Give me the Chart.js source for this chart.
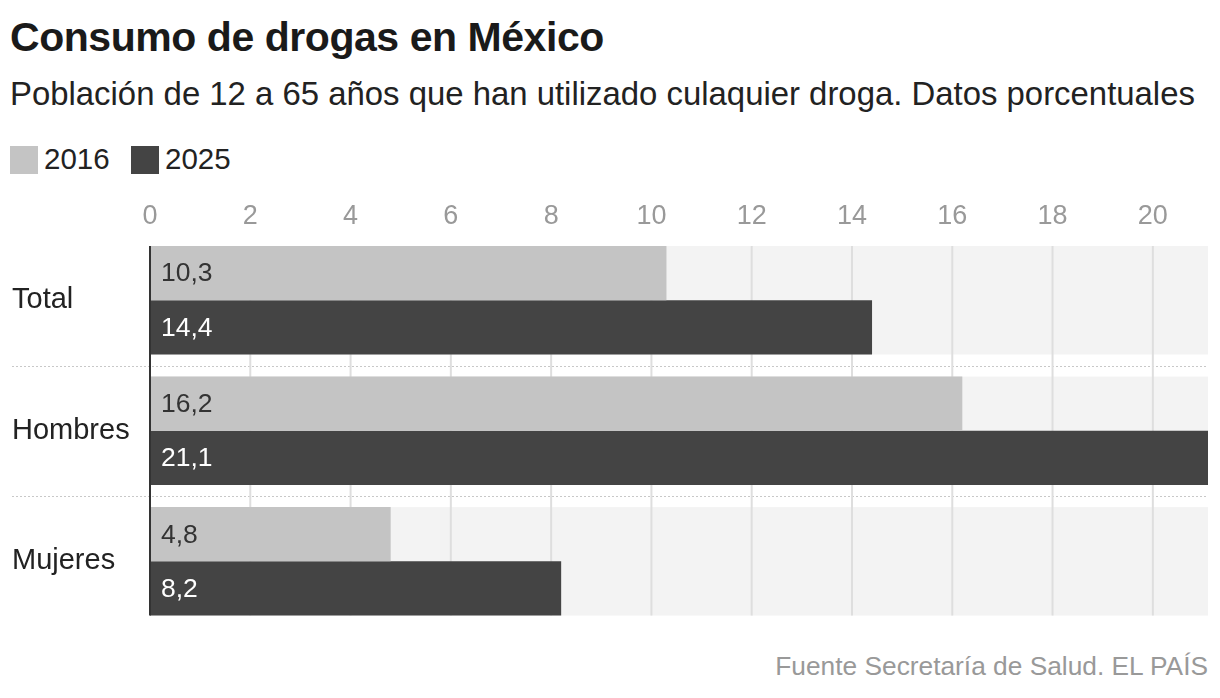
<!DOCTYPE html>
<html>
<head>
<meta charset="utf-8">
<script src="https://cdn.jsdelivr.net/npm/chart.js@4"></script>
<style>
  html, body { margin: 0; padding: 0; background: #fff; }
  body { width: 1220px; height: 698px; position: relative; overflow: hidden; font-family: "Liberation Sans", Arial, sans-serif; color: #222; }
  #title { position: absolute; left: 10px; top: 14px; font-size: 41px; font-weight: bold; color: #1a1a1a; letter-spacing: -0.45px; }
  #subtitle { position: absolute; left: 10px; top: 75px; font-size: 32.9px; color: #222; }
  #legend { position: absolute; left: 10px; top: 142px; font-size: 29.5px; color: #222; }
  .item { position: absolute; top: 0; white-space: nowrap; }
  .box { display: inline-block; width: 28px; height: 28px; vertical-align: top; margin-top: 4px; margin-right: 6px; }
  #footer { position: absolute; right: 12px; top: 651px; font-size: 26.3px; color: #999; }
  #wrap { position: absolute; left: 0; top: 190px; width: 1220px; height: 457px; }
</style>
</head>
<body>
<div id="title">Consumo de drogas en México</div>
<div id="subtitle">Población de 12 a 65 años que han utilizado culaquier droga. Datos porcentuales</div>
<div id="legend"></div>
<div id="wrap"><canvas id="chart"></canvas></div>
<div id="footer">Fuente Secretaría de Salud. EL PAÍS</div>
<script>
const categories = ["Total", "Hombres", "Mujeres"];
const years = ["2016", "2025"];
const values2016 = [10.3, 16.2, 4.8];
const values2025 = [14.4, 21.1, 8.2];
const xTicks = [0, 2, 4, 6, 8, 10, 12, 14, 16, 18, 20];
const X_MAX = 21.1;

const COLORS = ["#c4c4c4", "#444444"];
const LABEL_COLORS = ["#333333", "#ffffff"];
const BAND_COLOR = "#f3f3f3";
const CAT_PCT = 108 / 130;

// legend built in html
const legendEl = document.getElementById("legend");
const legendX = [0, 121];
years.forEach((y, i) => {
  const d = document.createElement("div");
  d.className = "item";
  d.style.left = legendX[i] + "px";
  d.innerHTML = `<span class="box" style="background:${COLORS[i]}"></span>${y}`;
  legendEl.appendChild(d);
});

function bandExtent(yScale) {
  const pitch = yScale.getPixelForValue(1) - yScale.getPixelForValue(0);
  return pitch * CAT_PCT / 2;
}

const decor = {
  id: "decor",
  beforeDatasetsDraw(chart) {
    const { ctx, scales: { x, y } } = chart;
    const half = bandExtent(y);
    ctx.save();
    // grey bands behind each group
    ctx.fillStyle = BAND_COLOR;
    categories.forEach((c, i) => {
      const cy = y.getPixelForValue(i);
      ctx.fillRect(x.left, cy - half, x.right - x.left, half * 2);
    });
    // dotted separators between groups
    ctx.strokeStyle = "#c8c8c8";
    ctx.lineWidth = 1;
    ctx.setLineDash([2, 2]);
    for (let i = 0; i < categories.length - 1; i++) {
      const sy = Math.round((y.getPixelForValue(i) + y.getPixelForValue(i + 1)) / 2) + 0.5;
      ctx.beginPath();
      ctx.moveTo(12, sy);
      ctx.lineTo(x.right, sy);
      ctx.stroke();
    }
    ctx.setLineDash([]);
    // vertical grid
    const top = y.getPixelForValue(0) - half;
    const bottom = y.getPixelForValue(categories.length - 1) + half;
    ctx.strokeStyle = "#dedede";
    ctx.lineWidth = 2;
    xTicks.forEach(v => {
      if (v === 0) return;
      const gx = x.getPixelForValue(v);
      ctx.beginPath();
      ctx.moveTo(gx, top);
      ctx.lineTo(gx, bottom);
      ctx.stroke();
    });
    ctx.restore();
  },
  afterDatasetsDraw(chart) {
    const { ctx, scales: { x, y } } = chart;
    const half = bandExtent(y);
    ctx.save();
    // value labels
    ctx.font = "26.5px 'Liberation Sans', Arial, sans-serif";
    ctx.textAlign = "left";
    ctx.textBaseline = "middle";
    chart.data.datasets.forEach((ds, di) => {
      const meta = chart.getDatasetMeta(di);
      meta.data.forEach((bar, i) => {
        ctx.fillStyle = LABEL_COLORS[di];
        ctx.fillText(ds.data[i].toFixed(1).replace(".", ","), bar.base + 11, bar.y + 1);
      });
    });
    // zero line
    const top = y.getPixelForValue(0) - half;
    const bottom = y.getPixelForValue(categories.length - 1) + half;
    const zx = x.getPixelForValue(0);
    ctx.strokeStyle = "#333";
    ctx.lineWidth = 2;
    ctx.beginPath();
    ctx.moveTo(zx, top);
    ctx.lineTo(zx, bottom);
    ctx.stroke();
    ctx.restore();
  }
};

new Chart(document.getElementById("chart"), {
  type: "bar",
  data: {
    labels: categories,
    datasets: [
      { label: years[0], data: values2016, backgroundColor: COLORS[0] },
      { label: years[1], data: values2025, backgroundColor: COLORS[1] }
    ]
  },
  options: {
    indexAxis: "y",
    responsive: true,
    maintainAspectRatio: false,
    animation: false,
    categoryPercentage: CAT_PCT,
    barPercentage: 1,
    layout: { padding: { left: 12, right: 12, top: 0, bottom: 10 } },
    scales: {
      x: {
        position: "top",
        min: 0,
        max: X_MAX,
        grid: { display: false, drawTicks: false },
        border: { display: false },
        afterFit: s => { s.height = 45; },
        afterBuildTicks: s => { s.ticks = xTicks.map(v => ({ value: v })); },
        ticks: {
          color: "#999",
          padding: 2,
          font: { size: 27, family: "'Liberation Sans', Arial, sans-serif" }
        }
      },
      y: {
        grid: { display: false, drawTicks: false },
        border: { display: false },
        afterFit: s => { s.width = 138; },
        ticks: {
          crossAlign: "far",
          color: "#222",
          font: { size: 29, family: "'Liberation Sans', Arial, sans-serif" }
        }
      }
    },
    plugins: {
      legend: { display: false },
      tooltip: { enabled: false }
    }
  },
  plugins: [decor]
});
</script>
</body>
</html>
